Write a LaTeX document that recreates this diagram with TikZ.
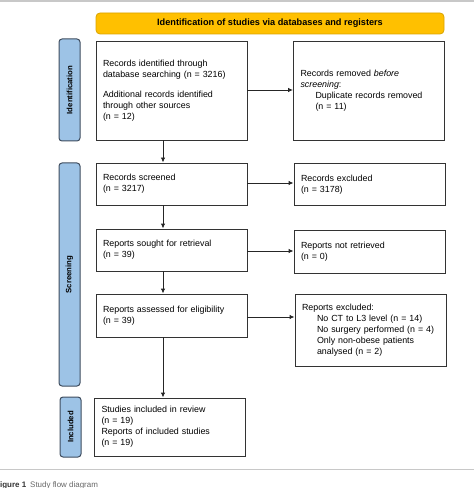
\documentclass[tikz,border=0pt]{standalone}
\usepackage{fontspec}
\setmainfont{Liberation Sans}
\definecolor{hdrfill}{HTML}{FFC000}
\definecolor{hdrdraw}{HTML}{D9A300}
\definecolor{sidefill}{HTML}{9DC3E6}
\definecolor{sidedraw}{HTML}{3E4C5E}
\definecolor{boxdraw}{HTML}{333333}
\definecolor{rulegray}{HTML}{C8C8C8}
\begin{document}
\begin{tikzpicture}[x=1bp,y=-1bp,
  flowbox/.style={draw=boxdraw,line width=0.9bp,minimum width=151bp,inner xsep=7bp,inner ysep=3bp,align=left,font=\fontsize{8.9}{11}\selectfont,text width=137bp},
  sidebox/.style={draw=sidedraw,fill=sidefill,line width=1bp,rounded corners=3bp,minimum height=21bp,inner sep=0pt,rotate=90,font=\bfseries\fontsize{7.8}{9}\selectfont},
  hdrbox/.style={draw=hdrdraw,fill=hdrfill,line width=0.8bp,rounded corners=4bp,minimum width=348bp,minimum height=21bp,inner sep=0pt,font=\bfseries\fontsize{9.2}{10}\selectfont},
  arr/.style={-{Latex[length=5bp,width=4.5bp]},line width=0.9bp,draw=black!85}]
\usetikzlibrary{arrows.meta}
\useasboundingbox (0,0) rectangle (474,488);
\fill[rulegray] (0,0) rectangle (474,2);
\draw[rulegray,line width=1.2bp] (0,469.5) -- (474,469.5);
\node[anchor=west,font=\fontsize{8}{9}\selectfont,text=black!60,inner sep=0pt] (cap) at (-5,485) {{\bfseries\color{black!80}Figure 1}\enspace Study flow diagram};

\node[hdrbox] (hdr) at (270,23.5) {Identification of studies via databases and registers};

\node[sidebox,minimum width=102bp] (sid) at (69.5,90) {Identification};
\node[sidebox,minimum width=223bp] (sscr) at (69.5,274.5) {Screening};
\node[sidebox,minimum width=60bp] (sinc) at (70.5,427) {Included};

\node[flowbox,minimum height=99bp] (rec) at (171.5,90.5) {Records identified through\\database searching (n = 3216)\\[9bp]Additional records identified\\through other sources\\(n = 12)};
\node[flowbox,minimum height=99bp] (rem) at (369,90.5) {Records removed \textit{before}\\\textit{screening}:\\\hspace*{15bp}Duplicate records removed\\\hspace*{15bp}(n = 11)};

\node[flowbox,minimum height=42bp] (scr) at (171.5,184) {Records screened\\(n = 3217)};
\node[flowbox,minimum height=42bp] (exc) at (369.5,184.5) {Records excluded\\(n = 3178)};

\node[flowbox,minimum height=42bp] (sou) at (171.5,250) {Reports sought for retrieval\\(n = 39)};
\node[flowbox,minimum height=43bp] (nret) at (369.5,251.5) {Reports not retrieved\\(n = 0)};

\node[flowbox,minimum height=43bp] (ass) at (171.5,315.5) {Reports assessed for eligibility\\(n = 39)};
\node[flowbox,minimum height=72bp] (rexc) at (370.5,330) {Reports excluded:\\\hspace*{15bp}No CT to L3 level (n = 14)\\\hspace*{15bp}No surgery performed (n = 4)\\\hspace*{15bp}Only non-obese patients\\\hspace*{15bp}analysed (n = 2)};

\node[flowbox,minimum height=58bp] (inc) at (170,427) {Studies included in review\\(n = 19)\\Reports of included studies\\(n = 19)};

\draw[arr] (rec.east |- 0,90) -- (rem.west |- 0,90);
\draw[arr] (rec.south -| 163,0) -- (scr.north -| 163,0);
\draw[arr] (scr.east |- 0,183) -- (exc.west |- 0,183);
\draw[arr] (scr.south -| 163,0) -- (sou.north -| 163,0);
\draw[arr] (sou.east |- 0,251) -- (nret.west |- 0,251);
\draw[arr] (sou.south -| 163,0) -- (ass.north -| 163,0);
\draw[arr] (ass.east |- 0,317) -- (rexc.west |- 0,317);
\draw[arr] (ass.south -| 163,0) -- (inc.north -| 163,0);
\end{tikzpicture}
\end{document}
